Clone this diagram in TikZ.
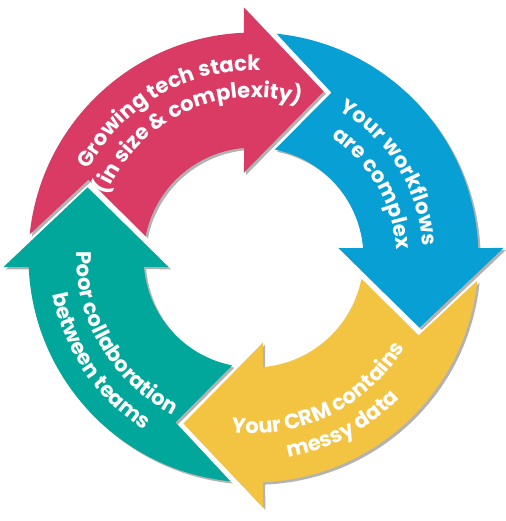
\documentclass[tikz,border=0pt]{standalone}
\usepackage{fontspec}
\setmainfont{Poppins}
\usetikzlibrary{shadows,decorations.text}

\definecolor{crimson}{HTML}{D93B65}
\definecolor{skyblue}{HTML}{08A0D4}
\definecolor{mustard}{HTML}{F3C442}
\definecolor{seagreen}{HTML}{00A79A}

\newcommand{\lblfont}{\color{white}\bfseries\fontsize{12}{14}\selectfont}

\tikzset{
  ring/.style={fill=#1, drop shadow={shadow xshift=0.45mm, shadow yshift=-0.45mm, opacity=0.3, fill=black}},
  ringtext/.style={decorate, decoration={text along path, text align=center, text={#1}}},
}

% one arrow of the ring, turned by #1 degrees
\newcommand{\ringarrow}[2]{%
  \fill[ring=#2] ({#1+174.1}:225) arc[start angle={#1+174.1}, end angle={#1+92.42}, radius=225]
    -- ({#1+92.18}:250.2) -- ({#1+67.1}:180.2) -- ({#1+96.38}:85.5)
    -- ({#1+94.95}:110) arc[start angle={#1+94.95}, end angle={#1+168.8}, radius=110]
    -- ({#1+154.7}:182.5) -- cycle;}

\begin{document}
\begin{tikzpicture}[x=0.2mm, y=0.2mm]

        \useasboundingbox (-253.5,-263.5) rectangle (252.5,257.5);

        % Draw the four arrows of the cycle
        \ringarrow{0}{crimson}
        \ringarrow{-90}{skyblue}
        \ringarrow{-180}{mustard}
        \ringarrow{-270}{seagreen}

        % Labels along the arcs
        \path[ringtext={|\lblfont|Growing tech stack}] (180:187) arc[start angle=180, end angle=60, radius=187];
        \path[ringtext={|\lblfont|(in size {\&} complexity)}] (175:160) arc[start angle=175, end angle=55, radius=160];

        \path[ringtext={|\lblfont|Your workflows}] (92:170) arc[start angle=92, end angle=-28, radius=170];
        \path[ringtext={|\lblfont|are complex}] (90:143) arc[start angle=90, end angle=-30, radius=143];

        \path[ringtext={|\lblfont|Your CRM contains}] (-124:176) arc[start angle=-124, end angle=-4, radius=176];
        \path[ringtext={|\lblfont|messy data}] (-122:203) arc[start angle=-122, end angle=-2, radius=203];

        \path[ringtext={|\lblfont|Poor collaboration}] (150.5:177) arc[start angle=150.5, end angle=270.5, radius=177];
        \path[ringtext={|\lblfont|between teams}] (154:204) arc[start angle=154, end angle=274, radius=204];

\end{tikzpicture}
\end{document}
